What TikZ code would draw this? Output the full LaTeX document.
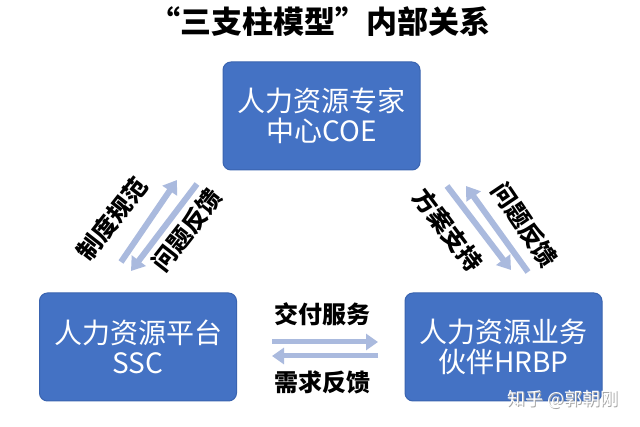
\documentclass[tikz,border=0pt]{standalone}
\usepackage{fontspec}
\usetikzlibrary{arrows.meta}
\newfontfamily\cjk{Noto Sans CJK SC}
\definecolor{boxblue}{HTML}{4472C4}
\definecolor{boxedge}{HTML}{3A64B0}
\definecolor{arrcol}{RGB}{170,186,222}
\begin{document}
\begin{tikzpicture}[x=1pt,y=-1pt,
  box/.style={draw=boxedge, line width=1pt, fill=boxblue, rounded corners=8pt,
    minimum width=197pt, minimum height=108pt, inner sep=0pt, align=center,
    text=white, font=\cjk\fontsize{28}{30}\selectfont},
  darr/.style={draw=arrcol, line width=6pt, -{Triangle[length=13pt,width=17pt]}},
  harr/.style={draw=arrcol, line width=5pt, -{Triangle[length=12pt,width=16pt]}},
  lbl/.style={font=\cjk\bfseries\fontsize{24}{26}\selectfont, text=black, inner sep=0pt},
  title/.style={font=\cjk\bfseries\fontsize{31}{33}\selectfont, text=black, inner sep=0pt},
  wm/.style={font=\cjk\fontsize{18}{20}\selectfont, inner sep=0pt}]
\fill[white] (0,0) rectangle (640,427);
\useasboundingbox (0,0) rectangle (640,427);

\node[title] (t) at (320,22) {“三支柱模型”内部关系};

\node[box] (coe) at (321.5,116) {人力资源专家\\中心COE};
\node[box] (ssc) at (138,347) {人力资源平台\\SSC};
\node[box] (hrbp) at (503.5,347) {人力资源业务\\伙伴HRBP};

% left pair
\coordinate (l1s) at (121,262); \coordinate (l1e) at (177,180);
\coordinate (l2s) at (197,184); \coordinate (l2e) at (131,271);
\draw[darr] (l1s) -- (l1e);
\draw[darr] (l2s) -- (l2e);
% right pair
\coordinate (r1s) at (447,186); \coordinate (r1e) at (511,270);
\coordinate (r2s) at (528,272); \coordinate (r2e) at (466,186);
\draw[darr] (r1s) -- (r1e);
\draw[darr] (r2s) -- (r2e);
% bottom pair
\coordinate (b1s) at (272,342); \coordinate (b1e) at (378,342);
\coordinate (b2s) at (378,356); \coordinate (b2e) at (272,356);
\draw[harr] (b1s) -- (b1e);
\draw[harr] (b2s) -- (b2e);

\node[lbl, rotate=52] (a1) at (112,219) {制度规范};
\node[lbl, rotate=52] (a2) at (187,230) {问题反馈};
\node[lbl, rotate=-53] (a3) at (448,230) {方案支持};
\node[lbl, rotate=-56] (a4) at (525,225) {问题反馈};
\node[lbl] (a5) at (322,314) {交付服务};
\node[lbl] (a6) at (322,382) {需求反馈};

\node[wm, text=gray!70] (wms) at (564.2,400.2) {知乎 @郭朝刚};
\node[wm, text=white] (wmt) at (563,399) {知乎 @郭朝刚};
\end{tikzpicture}
\end{document}
